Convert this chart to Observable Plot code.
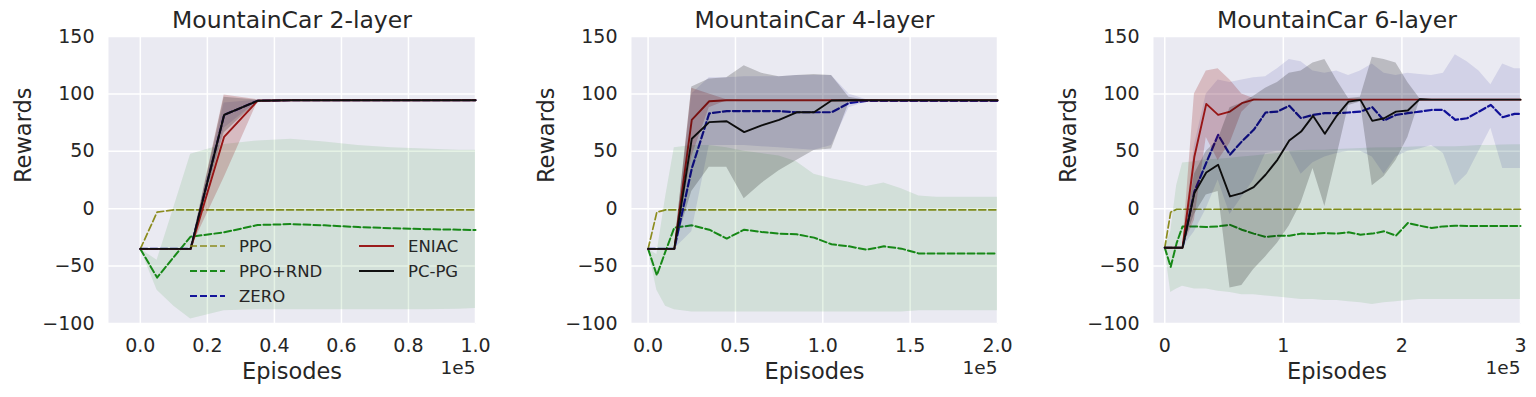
<!DOCTYPE html>
<html><head><meta charset="utf-8">
<script src="https://cdn.jsdelivr.net/npm/d3@7"></script>
<script src="https://cdn.jsdelivr.net/npm/@observablehq/plot@0.6"></script>
<style>
html,body{margin:0;padding:0;background:#fff;}
#wrap{position:relative;width:1536px;height:397px;overflow:hidden;font-family:"DejaVu Sans",sans-serif;}
.panel{position:absolute;top:0;}
#legend{position:absolute;left:0;top:0;pointer-events:none;}
</style></head><body><div id="wrap"></div>
<script>
// ---------- shared ----------
const METHODS = ["PPO", "PPO+RND", "ZERO", "ENIAC", "PC-PG"];
const COLORS = ["#8c8c1e", "#1a8a1a", "#14149a", "#9b1c1c", "#111111"];
const BAND_FILLS = [null, "#008000", "#00008b", "#8b0000", "#000000"];
const BAND_OPAC = [0, 0.1, 0.1, 0.2, 0.2];
const DASHES = ["7,3", "7,3", "7,3", null, null];
const WIDTHS = [1.7, 2, 2.2, 1.9, 1.9];
const YTICKS = [-100, -50, 0, 50, 100, 150];
const TITLES = ["MountainCar 2-layer", "MountainCar 4-layer", "MountainCar 6-layer"];

// ---------- panel 1 (x in units of 1e5) ----------
const p1_xticks = [0, 0.2, 0.4, 0.6, 0.8, 1.0];
const p1_x     = [0, 0.05, 0.1, 0.15, 0.25, 0.35, 0.45, 0.55, 0.65, 0.75, 0.85, 0.95, 1.0];
const p1_ppo   = [-35, -3, -1, -1, -1, -1, -1, -1, -1, -1, -1, -1, -1];
const p1_rnd   = [-35, -60, -42, -24.4, -20.6, -14.2, -13.4, -14.5, -16, -17, -17.8, -18.3, -18.6];
const p1_rnd_lo = [-35, -71, -85, -96, -89, -88, -88, -88, -88, -88, -88, -87.5, -87];
const p1_rnd_hi = [-35, -45, 1, 47.5, 56, 59, 60.6, 58, 55, 53, 52, 51, 51];
const p1_zero  = [-35, -35, -35, -35, 81.7, 94, 94.5, 94.5, 94.5, 94.5, 94.5, 94.5, 94.5];
const p1_zero_lo = [-35, -35, -35, -35, 70, 93.5, 94.5, 94.5, 94.5, 94.5, 94.5, 94.5, 94.5];
const p1_zero_hi = [-35, -35, -35, -35, 92, 94.5, 94.5, 94.5, 94.5, 94.5, 94.5, 94.5, 94.5];
const p1_eniac = [-35, -35, -35, -35, 62.6, 94, 94.5, 94.5, 94.5, 94.5, 94.5, 94.5, 94.5];
const p1_eniac_lo = [-35, -35, -35, -35, 27, 93, 94.5, 94.5, 94.5, 94.5, 94.5, 94.5, 94.5];
const p1_eniac_hi = [-35, -35, -35, -35, 99, 95, 94.5, 94.5, 94.5, 94.5, 94.5, 94.5, 94.5];
const p1_pcpg  = [-35, -35, -35, -35, 81.7, 94, 94.5, 94.5, 94.5, 94.5, 94.5, 94.5, 94.5];
const p1_pcpg_lo = [-35, -35, -35, -35, 66, 93.5, 94.5, 94.5, 94.5, 94.5, 94.5, 94.5, 94.5];
const p1_pcpg_hi = [-35, -35, -35, -35, 97, 94.5, 94.5, 94.5, 94.5, 94.5, 94.5, 94.5, 94.5];

// ---------- panel 2 ----------
const p2_xticks = [0, 0.5, 1.0, 1.5, 2.0];
const p2_x     = [0, 0.05, 0.1, 0.15, 0.25, 0.35, 0.45, 0.55, 0.65, 0.75, 0.85, 0.95, 1.05, 1.15, 1.25, 1.35, 1.45, 1.55, 1.65, 1.75, 1.85, 1.95, 2.0];
const p2_ppo   = [-35, -3, -1, -1, -1, -1, -1, -1, -1, -1, -1, -1, -1, -1, -1, -1, -1, -1, -1, -1, -1, -1, -1];
const p2_rnd   = [-35, -58, -37, -16.5, -14.5, -18.3, -26, -18.3, -20.3, -21.7, -22.3, -25.2, -31, -32.8, -35.7, -32.8, -34.8, -39, -39, -39, -39, -39, -39];
const p2_rnd_lo = [-35, -71, -85, -88, -90, -90, -90, -90, -90, -90, -90, -90, -90, -90, -90, -90, -90, -89, -89, -89, -89, -89, -89];
const p2_rnd_hi = [-35, -40, 10, 53, 55, 55, 53, 50, 48, 46, 41, 30, 26, 23, 19.4, 22.3, 17.4, 11, 10, 10, 10, 10, 10];
const p2_zero  = [-35, -35, -35, -35, 35, 83, 85, 85, 85, 85, 84, 84, 84, 92, 94, 94, 94, 94, 94, 94, 94, 94, 94];
const p2_zero_lo = [-35, -35, -35, -35, -20, 55, 55, 55, 54, 53, 52, 51, 55, 88, 93, 94, 94, 94, 94, 94, 94, 94, 94];
const p2_zero_hi = [-35, -35, -35, -35, 100, 114, 114, 115, 115, 115, 116, 116, 116, 100, 95, 94, 94, 94, 94, 94, 94, 94, 94];
const p2_eniac = [-35, -35, -35, -35, 77.4, 93.6, 94.5, 94.5, 94.5, 94.5, 94.5, 94.5, 94.5, 94.5, 94.5, 94.5, 94.5, 94.5, 94.5, 94.5, 94.5, 94.5, 94.5];
const p2_eniac_lo = [-35, -35, -35, -35, 45, 88, 94, 94.5, 94.5, 94.5, 94.5, 94.5, 94.5, 94.5, 94.5, 94.5, 94.5, 94.5, 94.5, 94.5, 94.5, 94.5, 94.5];
const p2_eniac_hi = [-35, -35, -35, -35, 105, 100, 95, 94.5, 94.5, 94.5, 94.5, 94.5, 94.5, 94.5, 94.5, 94.5, 94.5, 94.5, 94.5, 94.5, 94.5, 94.5, 94.5];
const p2_pcpg  = [-35, -35, -35, -35, 60.9, 75.4, 76.2, 66.7, 72.5, 77.4, 84, 84, 94.2, 94.5, 94.5, 94.5, 94.5, 94.5, 94.5, 94.5, 94.5, 94.5, 94.5];
const p2_pcpg_lo = [-35, -35, -35, -35, 15, 36, 36, 8.7, 22, 33, 42, 50.7, 52, 92, 94.5, 94.5, 94.5, 94.5, 94.5, 94.5, 94.5, 94.5, 94.5];
const p2_pcpg_hi = [-35, -35, -35, -35, 106, 113, 114, 124.6, 118, 115, 116, 117, 116, 97, 94.5, 94.5, 94.5, 94.5, 94.5, 94.5, 94.5, 94.5, 94.5];

// ---------- panel 3 ----------
const p3_xticks = [0, 1, 2, 3];
const p3_x     = [0, 0.05, 0.1, 0.15, 0.25, 0.35, 0.45, 0.55, 0.65, 0.75, 0.85, 0.95, 1.05, 1.15, 1.25, 1.35, 1.45, 1.55, 1.65, 1.75, 1.85, 1.95, 2.05, 2.15, 2.25, 2.35, 2.45, 2.55, 2.65, 2.75, 2.85, 2.95, 3.0];
const p3_ppo   = [-34, -3, -0.5, -0.5, -0.5, -0.5, -0.5, -0.5, -0.5, -0.5, -0.5, -0.5, -0.5, -0.5, -0.5, -0.5, -0.5, -0.5, -0.5, -0.5, -0.5, -0.5, -0.5, -0.5, -0.5, -0.5, -0.5, -0.5, -0.5, -0.5, -0.5, -0.5, -0.5];
const p3_rnd   = [-34, -50.7, -30, -15.4, -15.4, -16, -15.4, -14, -18.3, -21.7, -24.6, -23.5, -23.5, -21.7, -22, -21.2, -21.7, -20.6, -22.6, -21.7, -19.7, -23.5, -12.5, -14.8, -16.8, -15.4, -14.8, -15, -15, -15, -15, -15, -15];
const p3_rnd_lo = [-34, -73, -70, -67.5, -70, -70, -72, -73, -75, -75, -76, -77, -78, -79, -79, -80, -80, -81, -82, -83.5, -82, -81, -80, -79, -79, -79, -79, -79, -79, -79, -79, -79, -79];
const p3_rnd_hi = [-34, -20, 20, 39.7, 41, 42.6, 43, 44, 45, 46, 47, 48, 50, 50.7, 51, 51, 51.5, 52, 52.5, 52.8, 53, 53, 53.5, 54, 54, 54, 54, 54.5, 55, 55, 55.5, 55.7, 55.7];
const p3_zero  = [-34, -34, -34, -34, 15, 40, 64.3, 47, 58.6, 68.7, 83.8, 84.6, 89.6, 78.8, 81.7, 83.2, 83.2, 83.8, 84.6, 88.4, 76.8, 81.7, 83.2, 84.6, 86, 86, 77.4, 78.8, 84.6, 90.4, 79.7, 82.6, 82.6];
const p3_zero_lo = [-34, -34, -34, -34, -20, 0, 25, -5, 10, 25, 48, 50, 50, 30, 40, 45, 48, 50, 50, 45, 30, 45, 50, 52, 55, 48, 20, 30, 50, 70, 35, 35, 35];
const p3_zero_hi = [-34, -34, -34, -34, 55, 100, 112, 110, 112, 114, 115, 122, 130, 128, 120, 118, 120, 116, 120, 126, 118, 116, 118, 117, 116, 118, 134, 128, 120, 108, 126, 122, 122];
const p3_eniac = [-34, -34, -34, -34, 45.5, 91.3, 81.7, 84.6, 91.9, 95, 95, 95, 95, 95, 95, 95, 95, 95, 95, 95, 95, 95, 95, 95, 95, 95, 95, 95, 95, 95, 95, 95, 95];
const p3_eniac_lo = [-34, -34, -34, -34, -10, 62, 42, 57, 84, 94, 95, 95, 95, 95, 95, 95, 95, 95, 95, 95, 95, 95, 95, 95, 95, 95, 95, 95, 95, 95, 95, 95, 95];
const p3_eniac_hi = [-34, -34, -34, -34, 100, 120, 122, 112, 100, 96, 95, 95, 95, 95, 95, 95, 95, 95, 95, 95, 95, 95, 95, 95, 95, 95, 95, 95, 95, 95, 95, 95, 95];
const p3_pcpg  = [-34, -34, -34, -34, 13.6, 31.6, 38.3, 10.7, 13.6, 18.8, 29.6, 42.6, 59.4, 67.2, 80.9, 65.2, 80.9, 93.3, 94.8, 76.5, 78.8, 84.6, 85.5, 95.4, 95, 95, 95, 95, 95, 95, 95, 95, 95];
const p3_pcpg_lo = [-34, -34, -34, -34, -5, 12, 15, -69, -67, -53, -42, -30, -15, 5, 35, 2, 45, 90, 93, 20, 28, 42, 62, 94, 95, 95, 95, 95, 95, 95, 95, 95, 95];
const p3_pcpg_hi = [-34, -34, -34, -34, 30, 50, 60, 88, 92, 98, 105, 110, 118, 120, 127, 130, 112, 96, 97, 132, 130, 127, 110, 96, 95, 95, 95, 95, 95, 95, 95, 95, 95];

// ---------- legend ----------
const LEGEND_ORDER = [0, 1, 2, 3, 4];

const PANELS = [
  {title: TITLES[0], x: p1_x, xticks: p1_xticks, xmax: 1.0, fmt: d3.format(".1f"), left: 0, ml: 108, mr: 37,
   series: [{m: p1_ppo}, {m: p1_rnd, lo: p1_rnd_lo, hi: p1_rnd_hi}, {m: p1_zero, lo: p1_zero_lo, hi: p1_zero_hi},
            {m: p1_eniac, lo: p1_eniac_lo, hi: p1_eniac_hi}, {m: p1_pcpg, lo: p1_pcpg_lo, hi: p1_pcpg_hi}]},
  {title: TITLES[1], x: p2_x, xticks: p2_xticks, xmax: 2.0, fmt: d3.format(".1f"), left: 512, ml: 119, mr: 27,
   series: [{m: p2_ppo}, {m: p2_rnd, lo: p2_rnd_lo, hi: p2_rnd_hi}, {m: p2_zero, lo: p2_zero_lo, hi: p2_zero_hi},
            {m: p2_eniac, lo: p2_eniac_lo, hi: p2_eniac_hi}, {m: p2_pcpg, lo: p2_pcpg_lo, hi: p2_pcpg_hi}]},
  {title: TITLES[2], x: p3_x, xticks: p3_xticks, xmax: 3.0, fmt: d3.format("d"), left: 1024, ml: 129, mr: 16,
   series: [{m: p3_ppo}, {m: p3_rnd, lo: p3_rnd_lo, hi: p3_rnd_hi}, {m: p3_zero, lo: p3_zero_lo, hi: p3_zero_hi},
            {m: p3_eniac, lo: p3_eniac_lo, hi: p3_eniac_hi}, {m: p3_pcpg, lo: p3_pcpg_lo, hi: p3_pcpg_hi}]}
];

const TXT = "#262626";
const wrap = document.getElementById("wrap");

PANELS.forEach(cfg => {
  const marks = [
    Plot.frame({fill: "#eaeaf2", stroke: null}),
    Plot.gridX(cfg.xticks, {stroke: "#fff", strokeOpacity: 1, strokeWidth: 1.5}),
    Plot.gridY(YTICKS, {stroke: "#fff", strokeOpacity: 1, strokeWidth: 1.5}),
    Plot.axisX(cfg.xticks, {tickSize: 0, tickPadding: 15, fontSize: 19, tickFormat: cfg.fmt, label: null, fill: TXT}),
    Plot.axisY(YTICKS, {tickSize: 0, tickPadding: 14, fontSize: 19, tickFormat: d3.format("d"), label: null, fill: TXT})
  ];
  cfg.series.forEach((s, i) => {
    marks.push(Plot.line(cfg.x, {x: d => d, y: s.m, stroke: COLORS[i], strokeWidth: WIDTHS[i],
      strokeDasharray: DASHES[i] || undefined, curve: "linear"}));
    if (s.lo) marks.push(Plot.areaY(cfg.x, {x: d => d, y1: s.lo, y2: s.hi, fill: BAND_FILLS[i], fillOpacity: BAND_OPAC[i], curve: "linear"}));
  });
  marks.push(Plot.text([cfg.title], {frameAnchor: "top", lineAnchor: "middle", dy: -16, fontSize: 23.5, fill: TXT}));
  marks.push(Plot.text(["Rewards"], {frameAnchor: "left", lineAnchor: "middle", dx: -85, dy: 3, rotate: -90, fontSize: 22.5, fill: TXT}));
  marks.push(Plot.text(["Episodes"], {frameAnchor: "bottom", lineAnchor: "middle", dy: 48, fontSize: 22.5, fill: TXT}));
  marks.push(Plot.text(["1e5"], {frameAnchor: "bottom-right", lineAnchor: "middle", textAnchor: "end", dy: 45, fontSize: 18.5, fill: TXT}));

  const chart = Plot.plot({
    width: 512, height: 397,
    marginLeft: cfg.ml, marginRight: cfg.mr, marginTop: 36, marginBottom: 74,
    x: {domain: [-0.095, cfg.xmax]},
    y: {domain: [-100, 150]},
    style: {fontFamily: "DejaVu Sans", color: TXT, background: "transparent", overflow: "visible"},
    marks
  });
  const div = document.createElement("div");
  div.className = "panel";
  div.style.left = cfg.left + "px";
  div.appendChild(chart);
  wrap.appendChild(div);
});

// legend for panel 1 (two columns, column-major)
const lg = d3.select(wrap).append("svg").attr("id", "legend").attr("width", 1536).attr("height", 397)
  .style("font-family", "DejaVu Sans");
LEGEND_ORDER.forEach((mi, k) => {
  const col = k < 3 ? 0 : 1, row = k < 3 ? k : k - 3;
  const x0 = col === 0 ? 190 : 359, tx = col === 0 ? 239 : 408, y = 246 + row * 25;
  lg.append("line").attr("x1", x0).attr("x2", x0 + 35).attr("y1", y).attr("y2", y)
    .attr("stroke", COLORS[mi]).attr("stroke-width", WIDTHS[mi])
    .attr("stroke-dasharray", DASHES[mi] || null);
  lg.append("text").attr("x", tx).attr("y", y).attr("dy", "0.35em").attr("font-size", 16.5)
    .attr("fill", TXT).text(METHODS[mi]);
});
</script></body></html>
